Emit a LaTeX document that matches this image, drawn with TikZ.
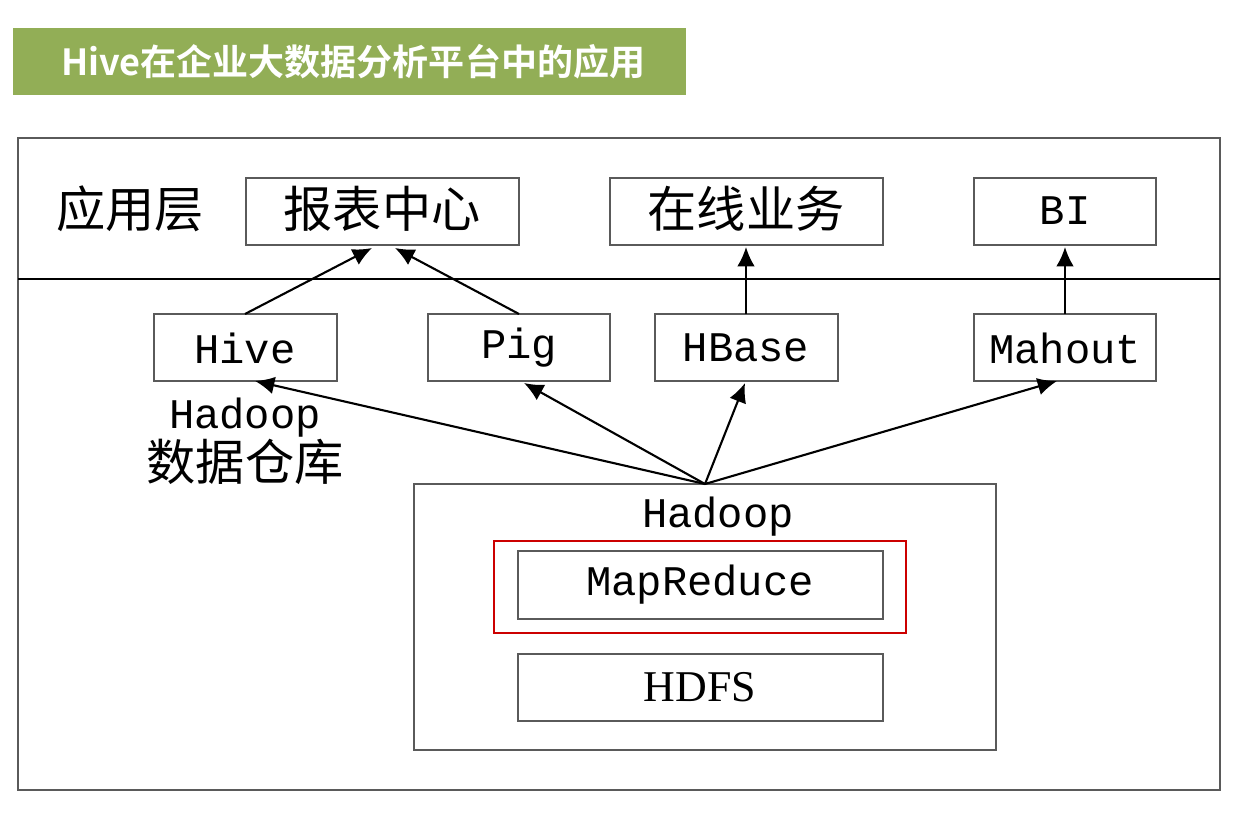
\documentclass[tikz,border=0pt]{standalone}
\usepackage{fontspec}
\setmainfont{Liberation Mono}
\newfontfamily\cjk{Noto Sans CJK SC}
\newfontfamily\cjkb{Noto Sans CJK SC Bold}
\newfontfamily\tms{Liberation Serif}
\usetikzlibrary{arrows.meta}
\definecolor{tgreen}{RGB}{146,174,86}
\definecolor{gline}{RGB}{90,90,90}
\begin{document}
\begin{tikzpicture}[x=0.02cm,y=-0.02cm,
  bx/.style={draw=gline,line width=0.6pt},
  lbl/.style={font=\fontsize{24}{28}\selectfont},
  zh/.style={font=\cjk\fontsize{28}{32}\selectfont},
  arr/.style={-{Latex[length=11pt,width=10pt]},line width=1.2pt}]
\useasboundingbox (0,0) rectangle (1247,814);
\fill[white] (0,0) rectangle (1247,814);
\fill[tgreen] (13,28) rectangle (686,95);
\node[anchor=west,text=white,font=\cjkb\fontsize{20.5}{24}\selectfont] (title) at (55,62) {Hive在企业大数据分析平台中的应用};
\draw[bx] (18,138) rectangle (1220,790);
\draw[line width=0.9pt] (18,279) -- (1220,279);
\node[zh] (layer) at (130,209) {应用层};
\draw[bx] (246,178) rectangle (519,245); \node[zh] (bb) at (382,209) {报表中心};
\draw[bx] (610,178) rectangle (883,245); \node[zh] (zx) at (746,209) {在线业务};
\draw[bx] (974,178) rectangle (1156,245); \node[lbl] (bi) at (1065,211) {BI};
\draw[bx] (154,314) rectangle (337,381); \node[lbl] (hive) at (245,348) {Hive};
\draw[bx] (428,314) rectangle (610,381); \node[lbl] (pig) at (519,348) {Pig};
\draw[bx] (655,314) rectangle (838,381); \node[lbl] (hbase) at (746,348) {HBase};
\draw[bx] (974,314) rectangle (1156,381); \node[lbl] (mahout) at (1065,348) {Mahout};
\node[lbl] (hd1) at (245,418) {Hadoop};
\node[zh] (hd2) at (245,462) {数据仓库};
\draw[bx] (414,484) rectangle (996,750);
\node[lbl] (hadoop) at (718,517) {Hadoop};
\draw[red!80!black,line width=0.8pt] (494,541) rectangle (906,633);
\draw[bx] (518,551) rectangle (883,619); \node[lbl] (mr) at (700,585) {MapReduce};
\draw[bx] (518,654) rectangle (883,721); \node[lbl,font=\tms\fontsize{25}{28}\selectfont] (hdfs) at (700,687) {HDFS};
\coordinate (src) at (705,484);
\draw[arr] (245,314) -- (372,248);
\draw[arr] (519,314) -- (395,248);
\draw[arr] (746,314) -- (746,247);
\draw[arr] (1065,314) -- (1065,247);
\draw[arr] (src) -- (255,381);
\draw[arr] (src) -- (524,383);
\draw[arr] (src) -- (745,383);
\draw[arr] (src) -- (1057,381);
\end{tikzpicture}
\end{document}
